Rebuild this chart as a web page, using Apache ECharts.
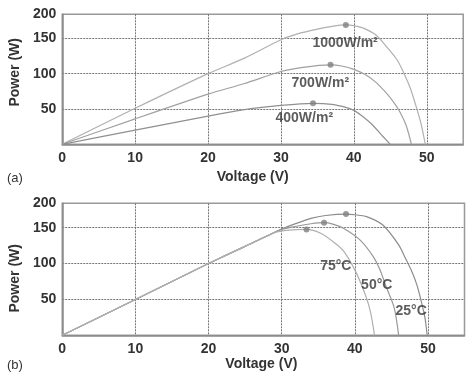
<!DOCTYPE html>
<html>
<head>
<meta charset="utf-8">
<script src="https://cdn.jsdelivr.net/npm/echarts@6/dist/echarts.min.js"></script>
<style>html,body{margin:0;padding:0;background:#fff}#c{width:474px;height:378px}</style>
</head>
<body>
<div id="c"></div>
<script>
// ---- Data ----
// (a) irradiance curves [Voltage V, Power W]
var irr1000 = [[0,0],[10,51],[20,100],[25,122],[30,148],[32.5,157],[35,163],[37,167],[38.9,169],[40,168],[41.3,164.5],[43,155],[44.5,138],[45.9,120],[46.9,100],[47.8,78],[48.5,55],[49.2,30],[49.8,0]];
var irr700 = [[0,0],[10,36],[20,71],[25,86],[30,103],[33,109],[36.8,112.5],[38.5,110.5],[40,106],[41.5,99],[43,88],[44.5,72],[45.5,59],[46.3,46],[47.2,26],[47.9,0]];
var irr400 = [[0,0],[10,20],[20,40],[25,49],[30,55],[34.4,58],[37,56.5],[39,52],[40,48],[41,41],[42.5,28],[44,11],[45,0]];
var mppA = [[38.9,169],[36.8,112.5],[34.4,58]];
var labelsA = ['1000W/m²','700W/m²','400W/m²'];

// (b) temperature curves
var t25 = [[0,0],[10,50],[20,100],[25,124],[30,148],[32,156],[34,163],[36,167],[38.8,169],[40,168],[41.6,165.5],[43.8,154],[46,126],[46.9,108],[47.8,89],[48.5,70],[49.1,47],[49.6,24],[49.9,0]];
var t50 = [[0,0],[10,50],[20,100],[25,124],[30,147.5],[32,152],[34,155.5],[35.8,157],[37,155],[38.5,149],[40.7,133],[42.5,110],[43.5,90],[44.2,70],[45.4,38],[46,0]];
var t75 = [[0,0],[10,50],[20,100],[25,124],[29,143],[31,146.5],[33.4,147.6],[35.4,142],[37.1,130],[38.5,117],[40.2,87],[41.6,52],[42.2,30],[42.7,0]];
var mppB = [[38.8,169],[35.8,157],[33.4,147.6]];
var labelsB = ['75°C','50°C','25°C'];

var xTicks = [0,10,20,30,40,50];
var yTicks = [50,100,150,200];

// annotation anchors (data coords)
var annA = [[38.8,143.7],[35.4,87],[33.2,37.3]];
var annB = [[37.4,96.5],[43,70],[47.7,33]];

var chart = echarts.init(document.getElementById('c'), null, {renderer:'canvas'});
var FONT = '"Liberation Sans", Arial, sans-serif';
var txt = '#333';

function xAxisCfg(idx, gap, pad){
  return {
    type:'value', gridIndex: idx, min:0, max:55, interval:10,
    name:'Voltage (V)', nameLocation:'middle', nameGap:gap,
    nameTextStyle:{fontFamily:FONT, fontSize:14, fontWeight:'bold', color:txt, padding:pad},
    axisLine:{show:true, lineStyle:{color:'#888', width:1.5}},
    axisTick:{show:false},
    axisLabel:{fontFamily:FONT, fontSize:14, fontWeight:'bold', color:txt, margin:7,
      formatter:function(v){ return xTicks.indexOf(v) >= 0 ? String(v) : ''; }},
    splitLine:{show:true, showMinLine:false, showMaxLine:false, lineStyle:{color:'#777', type:[2,1], width:1}}
  };
}
function yAxisCfg(idx, gap, pad){
  return {
    type:'value', gridIndex: idx, min:0, max:184, interval:50,
    name:'Power (W)', nameLocation:'middle', nameGap:gap,
    nameTextStyle:{fontFamily:FONT, fontSize:14, fontWeight:'bold', color:txt, padding:pad},
    axisLine:{show:true, lineStyle:{color:'#888', width:1.5}},
    axisTick:{show:false},
    axisLabel:{fontFamily:FONT, fontSize:14, fontWeight:'bold', color:txt, margin:6,
      formatter:function(v){ if (v === 0) return ''; if (v > 150) return String(yTicks[3]); return String(v); }},
    splitLine:{show:true, showMinLine:false, showMaxLine:false, lineStyle:{color:'#777', type:[2,1], width:1}}
  };
}
function lineSeries(data, xi, color){
  return {type:'line', xAxisIndex:xi, yAxisIndex:xi, data:data, showSymbol:false, smooth:0.25,
    lineStyle:{color:color, width:1.2}, silent:true, z:3};
}
function dotSeries(data, xi){
  return {type:'scatter', xAxisIndex:xi, yAxisIndex:xi, data:data, symbolSize:6, itemStyle:{color:'#808080'}, silent:true, z:4};
}
function labelSeries(anchors, texts, xi){
  return {type:'scatter', xAxisIndex:xi, yAxisIndex:xi, symbolSize:1, itemStyle:{color:'rgba(0,0,0,0)'}, silent:true, z:5,
    data: anchors.map(function(a,i){ return {value:a, name:texts[i]}; }),
    label:{show:true, position:'inside', formatter:function(p){return p.name;}, fontFamily:FONT, fontSize:14, fontWeight:'bold', color:txt}
  };
}

chart.setOption({
  animation:false,
  backgroundColor:'#fff',
  grid:[
    {left:61.7, top:14.3, width:401.5, height:130, show:true, borderColor:'#999', borderWidth:1.5},
    {left:51.5, top:203.3, width:413, height:132, show:true, borderColor:'#999', borderWidth:1.5}
  ],
  xAxis:[xAxisCfg(0, 26, [0,20,0,0]), xAxisCfg(1, 20, [0,4,0,0])],
  yAxis:[yAxisCfg(0, 40, [0,0,0,14]), yAxisCfg(1, 29, [0,18,0,0])],
  series:[
    lineSeries(irr1000, 0, '#b0b0b0'),
    lineSeries(irr700, 0, '#a0a0a0'),
    lineSeries(irr400, 0, '#909090'),
    dotSeries(mppA, 0),
    labelSeries(annA, labelsA, 0),
    lineSeries(t25, 1, '#8c8c8c'),
    lineSeries(t50, 1, '#999999'),
    lineSeries(t75, 1, '#b0b0b0'),
    dotSeries(mppB, 1),
    labelSeries(annB, labelsB, 1)
  ],
  graphic:[
    {type:'text', left:7, top:172, style:{text:'(a)', font:'13px '+FONT, fill:txt}},
    {type:'text', left:7, top:359, style:{text:'(b)', font:'13px '+FONT, fill:txt}}
  ]
});
</script>
</body>
</html>
